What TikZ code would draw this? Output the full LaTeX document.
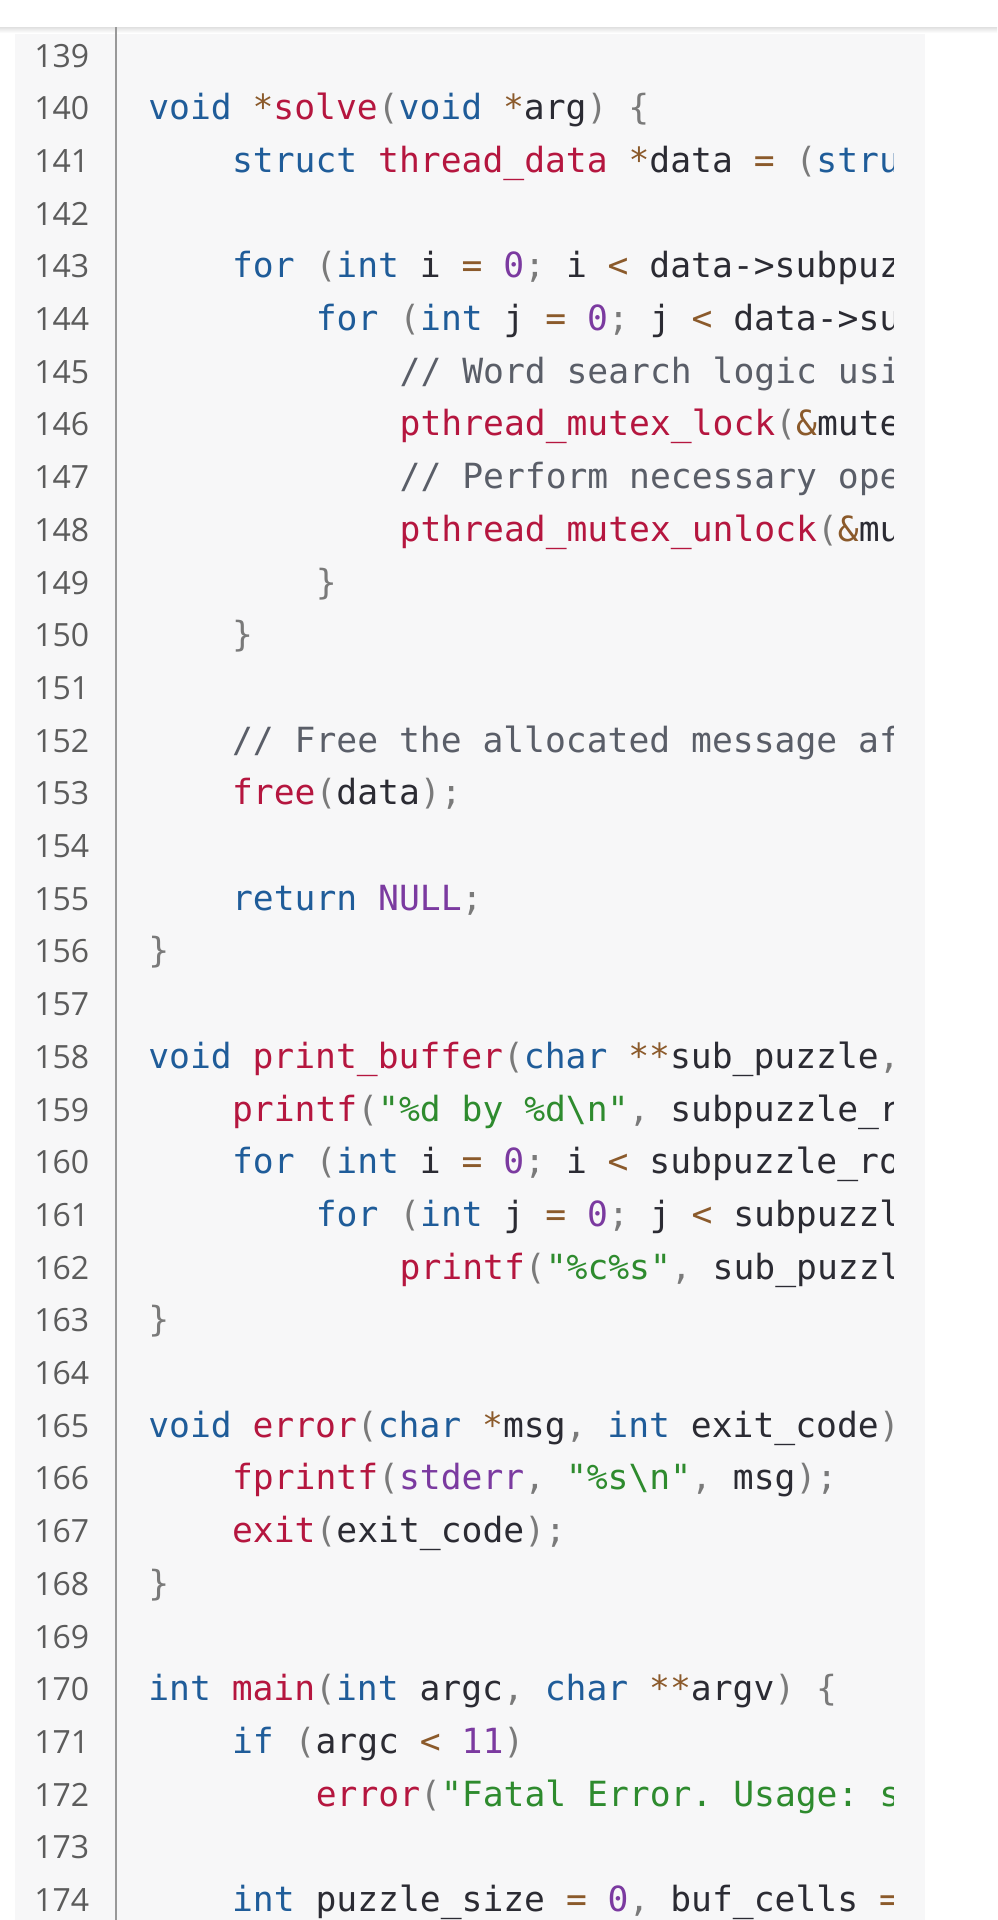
\documentclass[tikz,border=0pt]{standalone}
\usepackage{fontspec}
\setmainfont{Open Sans}
\setmonofont{DejaVu Sans Mono}
\definecolor{ckwc}{HTML}{1F5C99}
\definecolor{cfnc}{HTML}{B5163F}
\definecolor{cnumc}{HTML}{7B3AA0}
\definecolor{cstrc}{HTML}{2E8B2E}
\definecolor{ccomc}{HTML}{5A5E68}
\definecolor{copc}{HTML}{8B5A2B}
\definecolor{cparc}{HTML}{7A7A7A}
\definecolor{cidc}{HTML}{2B2B33}
\definecolor{panelc}{HTML}{F7F7F8}
\definecolor{lnc}{HTML}{5C5C5C}
\newcommand\ckw[1]{\textcolor{ckwc}{#1}}
\newcommand\cfn[1]{\textcolor{cfnc}{#1}}
\newcommand\cnum[1]{\textcolor{cnumc}{#1}}
\newcommand\cstr[1]{\textcolor{cstrc}{#1}}
\newcommand\ccom[1]{\textcolor{ccomc}{#1}}
\newcommand\cop[1]{\textcolor{copc}{#1}}
\newcommand\cpar[1]{\textcolor{cparc}{#1}}
\newcommand\cid[1]{\textcolor{cidc}{#1}}
\tikzset{
  lnum/.style={anchor=base west,inner sep=0pt,text=lnc,font=\fontsize{24}{26}\selectfont},
  code/.style={anchor=base west,inner sep=0pt,text=cidc,font=\ttfamily\fontsize{26}{28}\selectfont}
}
\newcommand\yb[1]{\fpeval{67+(#1-139)*52.7}}
\newcommand\xc[1]{\fpeval{148+#1*20.95}}
\begin{document}
\begin{tikzpicture}[x=0.75pt,y=-0.75pt]
\useasboundingbox (0,0) rectangle (997,1920);
\fill[white] (0,0) rectangle (997,1920);
\fill[panelc] (15,27) rectangle (925,1920);
\shade[top color=black!12,bottom color=white] (0,27) rectangle (997,33);
\fill[white] (0,0) rectangle (997,27);
\draw[black!40,line width=1.5pt] (116,27) -- (116,1920);
\foreach \n in {139,...,174}{
  \node[lnum] (ln\n) at (34,\yb{\n}) {\n};
}
\begin{scope}
\clip (120,27) rectangle (893,1920);
\node[code] (c140) at (\xc{0},\yb{140}) {\ckw{void} \cop{*}\cfn{solve}\cpar{(}\ckw{void} \cop{*}arg\cpar{)} \cpar{\{}};
\node[code] (c141) at (\xc{4},\yb{141}) {\ckw{struct} \cfn{thread\_data} \cop{*}data \cop{=} \cpar{(}\ckw{struct} \cfn{thread\_data} \cop{*}\cpar{)}arg\cpar{;}};
\node[code] (c143) at (\xc{4},\yb{143}) {\ckw{for} \cpar{(}\ckw{int} i \cop{=} \cnum{0}\cpar{;} i \cop{<} data->subpuzzle\_rows\cpar{;} i\cop{++}\cpar{)}};
\node[code] (c144) at (\xc{8},\yb{144}) {\ckw{for} \cpar{(}\ckw{int} j \cop{=} \cnum{0}\cpar{;} j \cop{<} data->subpuzzle\_cols\cpar{;} j\cop{++}\cpar{)} \cpar{\{}};
\node[code] (c145) at (\xc{12},\yb{145}) {\ccom{// Word search logic using the subpuzzle}};
\node[code] (c146) at (\xc{12},\yb{146}) {\cfn{pthread\_mutex\_lock}\cpar{(}\cop{\&}mutex\cpar{);}};
\node[code] (c147) at (\xc{12},\yb{147}) {\ccom{// Perform necessary operations}};
\node[code] (c148) at (\xc{12},\yb{148}) {\cfn{pthread\_mutex\_unlock}\cpar{(}\cop{\&}mutex\cpar{);}};
\node[code] (c149) at (\xc{8},\yb{149}) {\cpar{\}}};
\node[code] (c150) at (\xc{4},\yb{150}) {\cpar{\}}};
\node[code] (c152) at (\xc{4},\yb{152}) {\ccom{// Free the allocated message after use}};
\node[code] (c153) at (\xc{4},\yb{153}) {\cfn{free}\cpar{(}data\cpar{);}};
\node[code] (c155) at (\xc{4},\yb{155}) {\ckw{return} \cnum{NULL}\cpar{;}};
\node[code] (c156) at (\xc{0},\yb{156}) {\cpar{\}}};
\node[code] (c158) at (\xc{0},\yb{158}) {\ckw{void} \cfn{print\_buffer}\cpar{(}\ckw{char} \cop{**}sub\_puzzle\cpar{,} \ckw{int} subpuzzle\_rows\cpar{)}};
\node[code] (c159) at (\xc{4},\yb{159}) {\cfn{printf}\cpar{(}\cstr{"\%d by \%d\textbackslash n"}\cpar{,} subpuzzle\_rows\cpar{);}};
\node[code] (c160) at (\xc{4},\yb{160}) {\ckw{for} \cpar{(}\ckw{int} i \cop{=} \cnum{0}\cpar{;} i \cop{<} subpuzzle\_rows\cpar{;} i\cop{++}\cpar{)}};
\node[code] (c161) at (\xc{8},\yb{161}) {\ckw{for} \cpar{(}\ckw{int} j \cop{=} \cnum{0}\cpar{;} j \cop{<} subpuzzle\_cols\cpar{;} j\cop{++}\cpar{)}};
\node[code] (c162) at (\xc{12},\yb{162}) {\cfn{printf}\cpar{(}\cstr{"\%c\%s"}\cpar{,} sub\_puzzle\cpar{[}i\cpar{][}j\cpar{]);}};
\node[code] (c163) at (\xc{0},\yb{163}) {\cpar{\}}};
\node[code] (c165) at (\xc{0},\yb{165}) {\ckw{void} \cfn{error}\cpar{(}\ckw{char} \cop{*}msg\cpar{,} \ckw{int} exit\_code\cpar{)} \cpar{\{}};
\node[code] (c166) at (\xc{4},\yb{166}) {\cfn{fprintf}\cpar{(}\cnum{stderr}\cpar{,} \cstr{"\%s\textbackslash n"}\cpar{,} msg\cpar{);}};
\node[code] (c167) at (\xc{4},\yb{167}) {\cfn{exit}\cpar{(}exit\_code\cpar{);}};
\node[code] (c168) at (\xc{0},\yb{168}) {\cpar{\}}};
\node[code] (c170) at (\xc{0},\yb{170}) {\ckw{int} \cfn{main}\cpar{(}\ckw{int} argc\cpar{,} \ckw{char} \cop{**}argv\cpar{)} \cpar{\{}};
\node[code] (c171) at (\xc{4},\yb{171}) {\ckw{if} \cpar{(}argc \cop{<} \cnum{11}\cpar{)}};
\node[code] (c172) at (\xc{8},\yb{172}) {\cfn{error}\cpar{(}\cstr{"Fatal Error. Usage: solve"}\cpar{);}};
\node[code] (c174) at (\xc{4},\yb{174}) {\ckw{int} puzzle\_size \cop{=} \cnum{0}\cpar{,} buf\_cells \cop{=} \cnum{0}\cpar{;}};
\end{scope}
\end{tikzpicture}
\end{document}
